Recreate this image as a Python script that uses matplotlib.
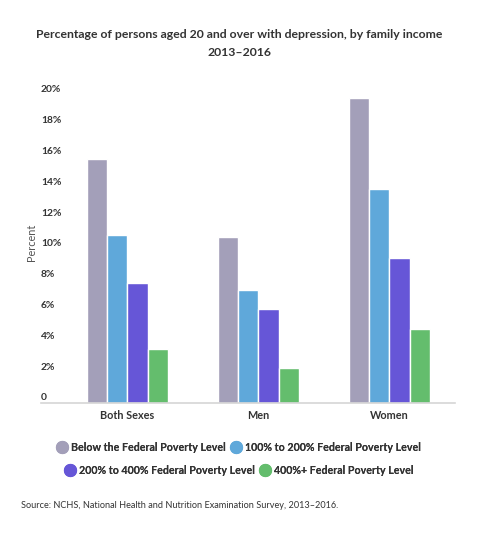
import matplotlib
matplotlib.use("Agg")
import matplotlib.pyplot as plt
import matplotlib.transforms as mtransforms
from matplotlib.lines import Line2D
import numpy as np

plt.rcParams['font.family'] = ['Lato', 'DejaVu Sans']

categories = ["Both Sexes", "Men", "Women"]
series_names = [
    "Below the Federal Poverty Level",
    "100% to 200% Federal Poverty Level",
    "200% to 400% Federal Poverty Level",
    "400%+ Federal Poverty Level",
]
below_fpl = [15.8, 10.8, 19.8]
fpl_100_200 = [10.9, 7.3, 13.9]
fpl_200_400 = [7.8, 6.1, 9.4]
fpl_400_plus = [3.5, 2.3, 4.8]
series_values = [below_fpl, fpl_100_200, fpl_200_400, fpl_400_plus]
colors = ["#a39fb9", "#5fa8da", "#6656d7", "#64bd6d"]
y_ticks = [0, 2, 4, 6, 8, 10, 12, 14, 16, 18, 20]
y_tick_labels = ["0", "2%", "4%", "6%", "8%", "10%", "12%", "14%", "16%", "18%", "20%"]

W, H = 478, 533
fig = plt.figure(figsize=(W / 100, H / 100), dpi=100)
fig.patch.set_facecolor("white")

left, right = 41, 455
bottom, top = 403, 94.7
ax = fig.add_axes([left / W, 1 - bottom / H, (right - left) / W, (bottom - top) / H])

x = np.arange(len(categories))
bw = 0.1535
for i, (vals, c) in enumerate(zip(series_values, colors)):
    ax.bar(x + (i - 1.5) * bw, vals, width=bw, color=c, edgecolor="white",
           linewidth=1.0, label=series_names[i], zorder=2)

ax.set_xlim(-0.66, 2.5)
ax.set_ylim(0, 20)
for s in ["top", "right", "left"]:
    ax.spines[s].set_visible(False)
ax.spines["bottom"].set_color("#d6d6d6")
ax.spines["bottom"].set_linewidth(1.2)

ax.set_yticks(y_ticks)
ax.set_yticklabels(y_tick_labels, fontsize=7.4, color="#333333", fontweight="bold")
ax.tick_params(axis="y", length=0, pad=0)
offset = mtransforms.ScaledTranslation(0, 6 / 100, fig.dpi_scale_trans)
for lab in ax.get_yticklabels():
    lab.set_horizontalalignment("left")
    lab.set_transform(lab.get_transform() + offset)

ax.set_xticks(x)
ax.set_xticklabels(categories, fontsize=7.8, color="#333333", fontweight="bold")
ax.tick_params(axis="x", length=0, pad=5)

fig.text(31.7 / W, 1 - 242.7 / H, "Percent", rotation=90, ha="center", va="center",
         fontsize=7.8, color="#555555")

fig.text(0.5, 1 - 35 / H, "Percentage of persons aged 20 and over with depression, by family income",
         ha="center", va="center", fontsize=8.85, color="#333333", fontweight="bold")
fig.text(0.5, 1 - 53 / H, "2013\u20132016", ha="center", va="center", fontsize=8.85,
         color="#333333", fontweight="bold")

def make_handle(i):
    return Line2D([], [], marker="o", linestyle="none", markersize=8.5,
                  markerfacecolor=colors[i], markeredgecolor=colors[i])

for idx, ypix in [((0, 1), 447.3), ((2, 3), 470.7)]:
    leg = fig.legend([make_handle(i) for i in idx], [series_names[i] for i in idx],
                     loc="center", bbox_to_anchor=(0.5, 1 - ypix / H), ncol=2,
                     frameon=False, fontsize=7.7, handletextpad=0.3, columnspacing=0.5,
                     handlelength=1.0, borderpad=0, borderaxespad=0)
    for t in leg.get_texts():
        t.set_color("#333333")
        t.set_fontweight("bold")
    fig.add_artist(leg)

fig.text(21 / W, 1 - 505.7 / H,
         "Source: NCHS, National Health and Nutrition Examination Survey, 2013\u20132016.",
         ha="left", va="center", fontsize=6.6, color="#333333")

fig.savefig("out.png", dpi=100, facecolor="white")
